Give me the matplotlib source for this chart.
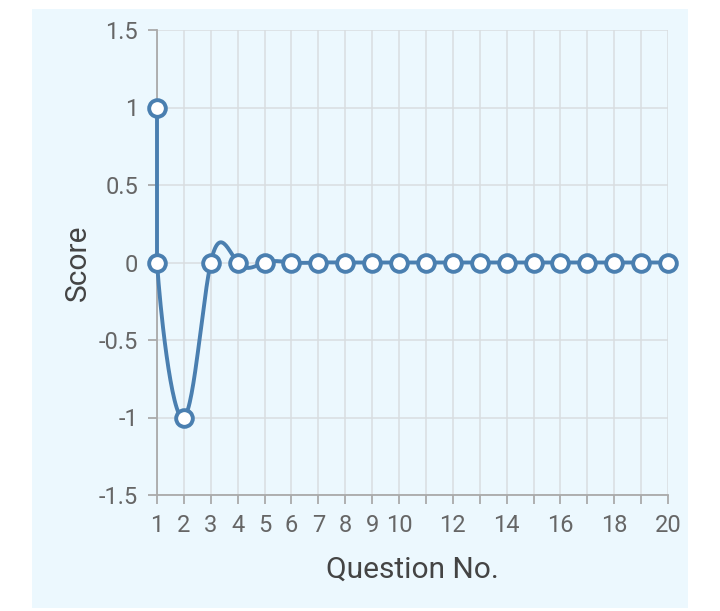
import numpy as np
import matplotlib
matplotlib.use("Agg")
import matplotlib.pyplot as plt
from matplotlib.patches import Rectangle

# data
questions = [1, 1, 2, 3, 4, 5, 6, 7, 8, 9, 10, 11, 12, 13, 14, 15, 16, 17, 18, 19, 20]
scores = [1, 0, -1, 0, 0, 0, 0, 0, 0, 0, 0, 0, 0, 0, 0, 0, 0, 0, 0, 0, 0]
x_ticks = list(range(1, 21))
x_labels = [str(i) if (i <= 10 or i % 2 == 0) else "" for i in x_ticks]
y_ticks = [-1.5, -1, -0.5, 0, 0.5, 1, 1.5]
y_labels = ["-1.5", "-1", "-0.5", "0", "0.5", "1", "1.5"]

LINE = "#4a7fb0"
BG = "#ecf8fe"


def natural_spline(v, n_per=30):
    # natural cubic spline over the point index
    v = np.asarray(v, dtype=float)
    n = len(v)
    A = np.zeros((n, n))
    d = np.zeros(n)
    A[0, 0] = A[-1, -1] = 1
    for i in range(1, n - 1):
        A[i, i - 1], A[i, i], A[i, i + 1] = 1, 4, 1
        d[i] = 6 * (v[i + 1] - 2 * v[i] + v[i - 1])
    M = np.linalg.solve(A, d)
    out = []
    for i in range(n - 1):
        t = np.linspace(0, 1, n_per, endpoint=(i == n - 2))
        s = ((1 - t) * v[i] + t * v[i + 1]
             + ((1 - t) ** 3 - (1 - t)) * M[i] / 6
             + (t ** 3 - t) * M[i + 1] / 6)
        out.append(s)
    return np.concatenate(out)


plt.rcParams['font.family'] = ['Roboto', 'DejaVu Sans']

fig = plt.figure(figsize=(7.2, 6.11), dpi=100)
fig.patches.append(Rectangle((32 / 720, 3 / 611), 656 / 720, 599 / 611,
                             transform=fig.transFigure, facecolor=BG,
                             edgecolor="none", zorder=-10))

ax = fig.add_axes([157 / 720, 116 / 611, 511 / 720, 465 / 611])
ax.set_facecolor("none")

xs = np.maximum(natural_spline(questions), min(questions))
ys = natural_spline(scores)
ax.plot(xs, ys, color=LINE, lw=2.8, zorder=3, solid_capstyle="round",
        clip_on=False)
ax.plot(questions, scores, "o", ms=12, mfc="white", mec=LINE, mew=2.8,
        zorder=4, clip_on=False)

ax.set_xlim(1, 20)
ax.set_ylim(-1.5, 1.5)
ax.set_xticks(x_ticks)
ax.set_xticklabels(x_labels)
ax.set_yticks(y_ticks)
ax.set_yticklabels(y_labels)

ax.grid(True, color="#d9dde0", lw=1.1, zorder=0)
ax.set_axisbelow(True)
for side in ["top", "right"]:
    ax.spines[side].set_visible(False)
for side in ["left", "bottom"]:
    ax.spines[side].set_color("#aaaaaa")
    ax.spines[side].set_linewidth(1.3)
    ax.spines[side].set_zorder(2)
ax.tick_params(length=6.5, width=1.3, color="#aaaaaa", labelcolor="#666666",
               labelsize=17, pad=7)

ax.set_xlabel("Question No.", fontsize=21.5, color="#444444", labelpad=14)
ax.set_ylabel("Score", fontsize=21.5, color="#444444", labelpad=5)

fig.savefig("out.png", dpi=100, facecolor="white")
